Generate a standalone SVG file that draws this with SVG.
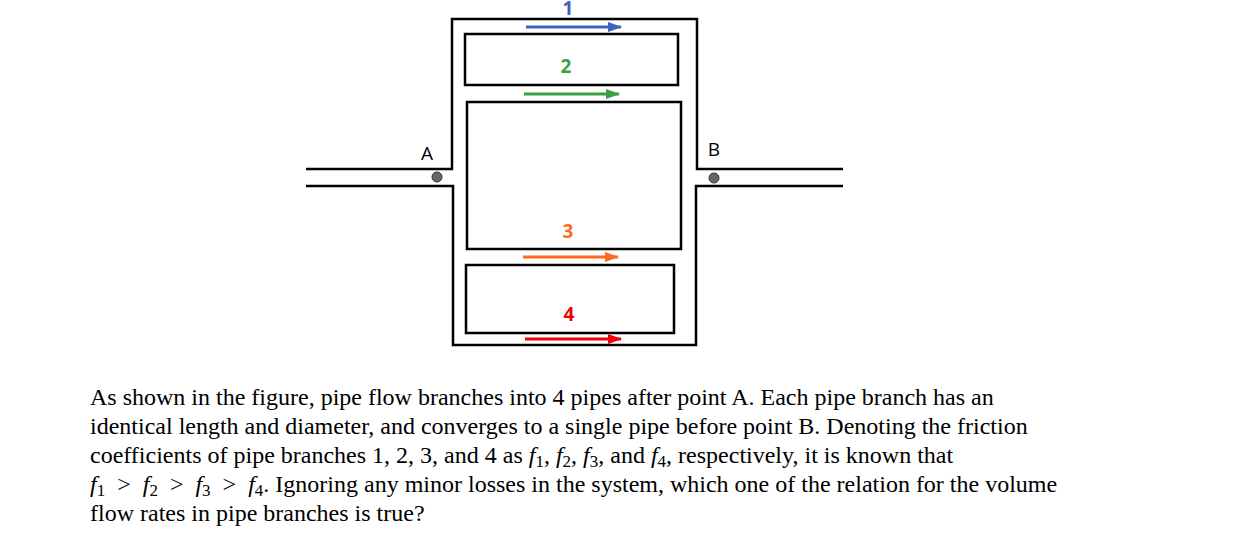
<svg xmlns="http://www.w3.org/2000/svg" width="1249" height="551" viewBox="0 0 1249 551">
<style>
.w{fill:none;stroke:#000;stroke-width:2.5}
.n{font-family:"Open Sans","Liberation Sans",sans-serif;font-size:19px;font-weight:bold;text-anchor:middle}
.l{font-family:"Open Sans","Liberation Sans",sans-serif;font-size:19px;text-anchor:middle}
.t{font-family:"Liberation Serif",serif;font-size:24px;fill:#000}
.i{font-style:italic}
</style>
<defs>
<marker id="ab" markerWidth="14" markerHeight="10" refX="13" refY="5" orient="auto" markerUnits="userSpaceOnUse" viewBox="0 0 14 10"><path d="M0,0L14,5L0,10z" fill="#4060c0"/></marker>
<marker id="ag" markerWidth="14" markerHeight="10" refX="13" refY="5" orient="auto" markerUnits="userSpaceOnUse" viewBox="0 0 14 10"><path d="M0,0L14,5L0,10z" fill="#3aa040"/></marker>
<marker id="ao" markerWidth="14" markerHeight="10" refX="13" refY="5" orient="auto" markerUnits="userSpaceOnUse" viewBox="0 0 14 10"><path d="M0,0L14,5L0,10z" fill="#ff6a20"/></marker>
<marker id="ar" markerWidth="14" markerHeight="10" refX="13" refY="5" orient="auto" markerUnits="userSpaceOnUse" viewBox="0 0 14 10"><path d="M0,0L14,5L0,10z" fill="#f00000"/></marker>
</defs>
<rect width="1249" height="551" fill="#fff"/>
<g id="pipes">
<path class="w" d="M306,169H452V19H697V169H843"/>
<path class="w" d="M306,186H453V345H696V186H843"/>
<rect class="w" x="465" y="34" width="213" height="51"/>
<rect class="w" x="467" y="102" width="214" height="147"/>
<rect class="w" x="466" y="265" width="208" height="68"/>
</g>
<g id="pointA"><circle cx="437" cy="177" r="5" fill="#666" stroke="#333"/><text class="l" x="427" y="160">A</text></g>
<g id="pointB"><circle cx="714" cy="178" r="5" fill="#666" stroke="#333"/><text class="l" x="714" y="156">B</text></g>
<g id="connectors" stroke-width="3">
<line x1="526" y1="27" x2="621" y2="27" stroke="#4060c0" marker-end="url(#ab)"/>
<line x1="524" y1="94" x2="619" y2="94" stroke="#3aa040" marker-end="url(#ag)"/>
<line x1="523" y1="257" x2="618" y2="257" stroke="#ff6a20" marker-end="url(#ao)"/>
<line x1="525" y1="339" x2="621" y2="339" stroke="#f00000" marker-end="url(#ar)"/>
</g>
<g id="labels">
<text class="n" x="568" y="15" font-size="14" fill="#4060c0">1</text>
<text class="n" x="566" y="73" fill="#3aa040">2</text>
<text class="n" x="568" y="238" fill="#ff6a20">3</text>
<text class="n" x="569" y="321" fill="#f00000">4</text>
</g>
<g id="question">
<text class="t" x="90" y="405">As shown in the figure, pipe flow branches into 4 pipes after point A. Each pipe branch has an</text>
<text class="t" x="90" y="434">identical length and diameter, and converges to a single pipe before point B. Denoting the friction</text>
<text class="t" x="90" y="463">coefficients of pipe branches 1, 2, 3, and 4 as <tspan class="i">f</tspan><tspan font-size="17" dy="4">1</tspan><tspan dy="-4">, </tspan><tspan class="i">f</tspan><tspan font-size="17" dy="4">2</tspan><tspan dy="-4">, </tspan><tspan class="i">f</tspan><tspan font-size="17" dy="4">3</tspan><tspan dy="-4">, and </tspan><tspan class="i">f</tspan><tspan font-size="17" dy="4">4</tspan><tspan dy="-4">, respectively, it is known that</tspan></text>
<text class="t" x="90" y="492" xml:space="preserve"><tspan class="i">f</tspan><tspan font-size="17" dy="4">1</tspan><tspan dy="-4">  &gt;  </tspan><tspan class="i">f</tspan><tspan font-size="17" dy="4">2</tspan><tspan dy="-4">  &gt;  </tspan><tspan class="i">f</tspan><tspan font-size="17" dy="4">3</tspan><tspan dy="-4">  &gt;  </tspan><tspan class="i">f</tspan><tspan font-size="17" dy="4">4</tspan><tspan dy="-4">. Ignoring any minor losses in the system, which one of the relation for the volume</tspan></text>
<text class="t" x="90" y="521">flow rates in pipe branches is true?</text>
</g>
</svg>
